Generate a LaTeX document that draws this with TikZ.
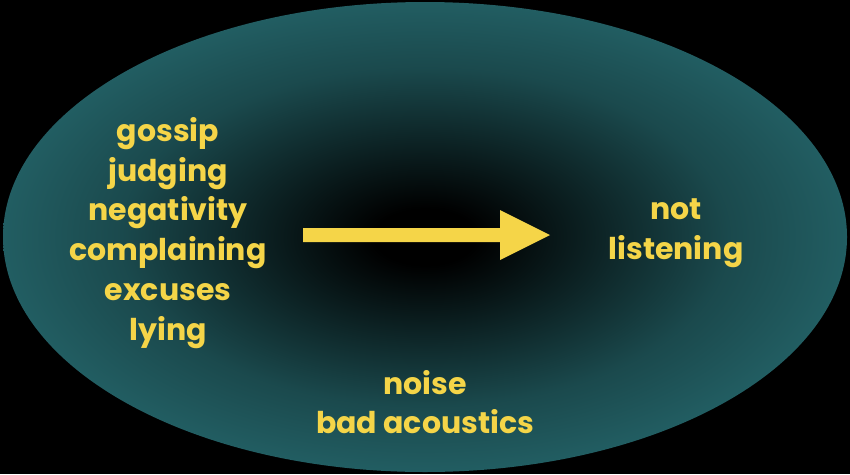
\documentclass[tikz,border=0pt]{standalone}
\usepackage{fontspec}
\setmainfont{Poppins}
\definecolor{myteal}{HTML}{2C7A80}
\definecolor{myyel}{HTML}{F5D548}
\pgfdeclareradialshading{glow}{\pgfpoint{0bp}{0bp}}{color(0bp)=(black); color(3bp)=(black); color(18bp)=(myteal!60!black); color(35bp)=(myteal); color(50bp)=(myteal)}
\tikzset{lbl/.style={text=myyel, font=\fontsize{30}{39.8}\selectfont\bfseries, align=center, inner sep=0pt}}
\begin{document}
\begin{tikzpicture}[x=1pt,y=-1pt]
\fill[black] (0,0) rectangle (850,474);
\useasboundingbox (0,0) rectangle (850,474);
\shade[shading=glow] (425,237) ellipse [x radius=422, y radius=235];
\node[lbl] (left) at (168,233) {gossip\\judging\\negativity\\complaining\\excuses\\lying};
\node[lbl] (right) at (676,233) {not\\listening};
\node[lbl] (bottom) at (425,402) {noise\\bad acoustics};
\fill[myyel] (303,228) -- (500,228) -- (500,210) -- (550,235) -- (500,260) -- (500,242) -- (303,242) -- cycle;
\end{tikzpicture}
\end{document}
